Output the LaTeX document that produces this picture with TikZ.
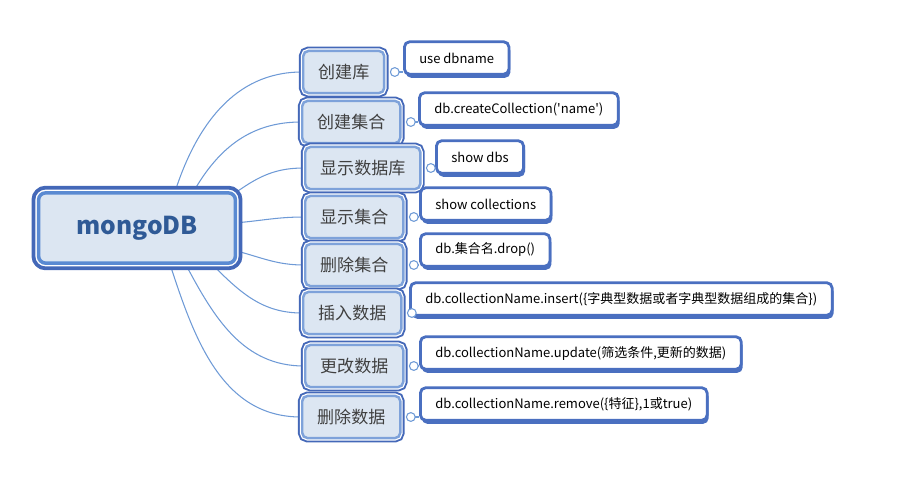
\documentclass[tikz,border=0pt]{standalone}
\usepackage{fontspec}
\setmainfont{Noto Sans CJK SC}
\usetikzlibrary{positioning,shadows,backgrounds}
\definecolor{frame}{HTML}{4468B8}
\definecolor{rim}{HTML}{7EA2DA}
\definecolor{rootrim}{HTML}{5A8AD2}
\definecolor{boxfill}{HTML}{DCE6F2}
\definecolor{cmdline}{HTML}{4A6FC0}
\definecolor{linkc}{HTML}{6E9AD6}
\definecolor{titlec}{HTML}{2F5A96}

\begin{document}
\begin{tikzpicture}[x=0.02cm, y=0.02cm,
    root/.style={rounded corners=4pt, fill=boxfill, draw=rootrim, line width=2pt,
        preaction={draw=frame, line width=8pt}, preaction={draw=white, line width=3.6pt},
        minimum width=112pt, minimum height=40pt, text=titlec,
        font=\fontsize{14}{16}\selectfont\bfseries},
    topic/.style={rounded corners=3pt, fill=boxfill, draw=rim, line width=1.4pt,
        preaction={draw=frame, line width=5pt}, preaction={draw=white, line width=2.8pt},
        inner xsep=8.5pt, minimum height=24pt, anchor=west, text=black!75,
        font=\fontsize{9.7}{11}\selectfont},
    cmd/.style={draw=cmdline, line width=1.6pt, fill=white, rounded corners=3pt,
        drop shadow={shadow xshift=0.8pt, shadow yshift=-2pt, fill=cmdline, opacity=1},
        inner xsep=8.5pt, minimum height=18.5pt, anchor=west,
        font=\fontsize{7.4}{9}\selectfont},
    link/.style={draw=linkc, line width=0.6pt},
    knob/.style={circle, draw=linkc, fill=white, line width=0.6pt, inner sep=0pt, minimum size=5pt}
]
\useasboundingbox (0,0) rectangle (917,-477);

% centre
\node[root] (db) at (137,-228) {mongoDB};

% operations
\node[topic] (t1) at (302,-72) {创建库};
\node[topic] (t2) at (301,-122) {创建集合};
\node[topic] (t3) at (304,-168) {显示数据库};
\node[topic] (t4) at (304,-217) {显示集合};
\node[topic] (t5) at (304,-265) {删除集合};
\node[topic] (t6) at (302,-313) {插入数据};
\node[topic] (t7) at (304,-366) {更改数据};
\node[topic] (t8) at (301,-417) {删除数据};

% commands
\node[cmd] (c1) at (403,-58) {use dbname};
\node[cmd] (c2) at (418,-109) {db.createCollection(\textquotesingle name\textquotesingle)};
\node[cmd] (c3) at (435,-157) {show dbs};
\node[cmd] (c4) at (419,-204) {show collections};
\node[cmd] (c5) at (419,-250) {db.集合名.drop()};
\node[cmd] (c6) at (409,-299) {db.collectionName.insert(\{字典型数据或者字典型数据组成的集合\})};
\node[cmd] (c7) at (419,-353) {db.collectionName.update(筛选条件,更新的数据)};
\node[cmd] (c8) at (419,-404) {db.collectionName.remove(\{特征\},1或true)};

\foreach \i in {1,...,8}
    \node[knob, right=2.5pt of t\i] (k\i) {};

\begin{scope}[on background layer]
\draw[link] (db.44) to[out=72,in=180] (t1.west);
\draw[link] (db.33) to[out=60,in=180] (t2.west);
\draw[link] (db.20) to[out=35,in=180] (t3.west);
\draw[link] (db.3) to[out=5,in=180] (t4.west);
\draw[link] (db.-13) to[out=-15,in=180] (t5.west);
\draw[link] (db.-26) to[out=-45,in=180] (t6.west);
\draw[link] (db.-37) to[out=-62,in=180] (t7.west);
\draw[link] (db.-48) to[out=-72,in=180] (t8.west);
\foreach \i in {1,...,8}
    \draw[link] (k\i.center) -- (k\i.center -| c\i.west);
\end{scope}
\end{tikzpicture}
\end{document}
